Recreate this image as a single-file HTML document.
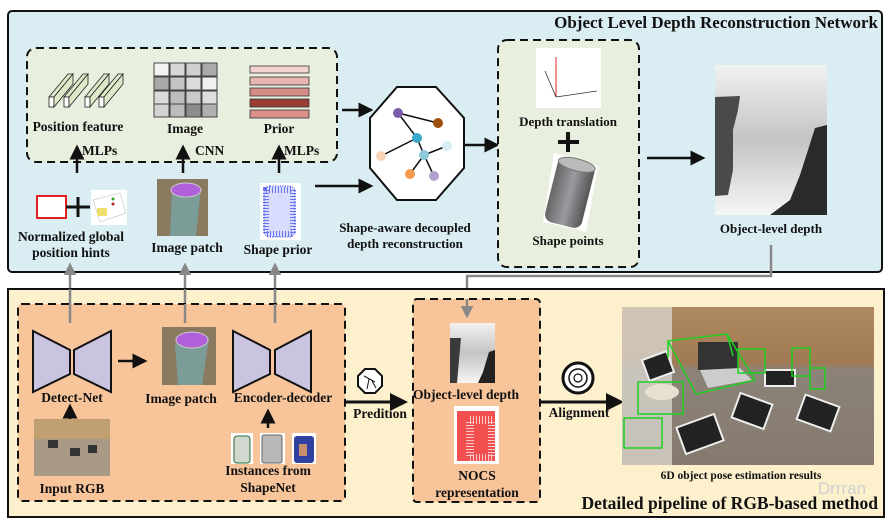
<!DOCTYPE html>
<html><head><meta charset="utf-8"><style>
body{margin:0;background:#fff}
svg text{font-family:"Liberation Serif",serif;font-weight:bold;fill:#111}
</style></head><body>
<svg width="889" height="526" viewBox="0 0 889 526" xmlns="http://www.w3.org/2000/svg">
<defs>
<marker id="ab" markerWidth="6" markerHeight="6" refX="5" refY="3" orient="auto" markerUnits="strokeWidth"><path d="M0,0 L6,3 L0,6 z" fill="#111"/></marker>
<marker id="ag" markerWidth="5" markerHeight="5" refX="4" refY="2.5" orient="auto" markerUnits="strokeWidth"><path d="M0,0 L5,2.5 L0,5 z" fill="#888"/></marker>
<linearGradient id="dep" x1="0" y1="0" x2="0" y2="1"><stop offset="0" stop-color="#f2f2f2"/><stop offset="0.5" stop-color="#c4c4c4"/><stop offset="1" stop-color="#f6f6f6"/></linearGradient>
<linearGradient id="can" x1="0" x2="1"><stop offset="0" stop-color="#666"/><stop offset="0.5" stop-color="#9a9aa0"/><stop offset="1" stop-color="#555"/></linearGradient>
<linearGradient id="room" x1="0" y1="0" x2="0" y2="1"><stop offset="0" stop-color="#b08a60"/><stop offset="0.35" stop-color="#a07a52"/><stop offset="0.4" stop-color="#8c8378"/><stop offset="1" stop-color="#857a6e"/></linearGradient>
</defs>

<rect x="8" y="11" width="874" height="261" rx="4" fill="#daedf3" stroke="#111" stroke-width="2"/>
<text x="878" y="28" font-size="17" text-anchor="end">Object Level Depth Reconstruction Network</text>

<rect x="27" y="48" width="310" height="114" rx="9" fill="#e9efdf" stroke="#111" stroke-width="2" stroke-dasharray="8,5"/>
<g fill="#dfe8c8" stroke="#222" stroke-width="0.8">
<path d="M49,97 L68,74 L73,74 L54,97 z"/><rect x="49" y="97" width="5" height="10" fill="#fff"/><path d="M54,97 L73,74 L73,84 L54,107z"/>
<path d="M64,97 L83,74 L88,74 L69,97 z"/><rect x="64" y="97" width="5" height="10" fill="#fff"/><path d="M69,97 L88,74 L88,84 L69,107z"/>
<path d="M85,97 L104,74 L109,74 L90,97 z"/><rect x="85" y="97" width="5" height="10" fill="#fff"/><path d="M90,97 L109,74 L109,84 L90,107z"/>
<path d="M99,97 L118,74 L123,74 L104,97 z"/><rect x="99" y="97" width="5" height="10" fill="#fff"/><path d="M104,97 L123,74 L123,84 L104,107z"/>
</g>
<text x="78" y="131" font-size="13.5" text-anchor="middle">Position feature</text>
<g stroke="#444" stroke-width="1">
<rect x="154" y="63" width="15" height="13" fill="#f2f2f2"/><rect x="170" y="63" width="15" height="13" fill="#d6d6d6"/><rect x="186" y="63" width="15" height="13" fill="#cfcfcf"/><rect x="202" y="63" width="15" height="13" fill="#aaa"/>
<rect x="154" y="77" width="15" height="13" fill="#a8a8a8"/><rect x="170" y="77" width="15" height="13" fill="#c4c4c4"/><rect x="186" y="77" width="15" height="13" fill="#dcdcdc"/><rect x="202" y="77" width="15" height="13" fill="#f0f0f0"/>
<rect x="154" y="91" width="15" height="13" fill="#dadada"/><rect x="170" y="91" width="15" height="13" fill="#bdbdbd"/><rect x="186" y="91" width="15" height="13" fill="#c9c9c9"/><rect x="202" y="91" width="15" height="13" fill="#dedede"/>
<rect x="154" y="104" width="15" height="13" fill="#d3d3d3"/><rect x="170" y="104" width="15" height="13" fill="#bcbcbc"/><rect x="186" y="104" width="15" height="13" fill="#8c8c8c"/><rect x="202" y="104" width="15" height="13" fill="#b0b0b0"/>
</g>
<text x="185" y="133" font-size="13.5" text-anchor="middle">Image</text>
<g stroke="#333" stroke-width="0.8">
<rect x="250" y="66" width="59" height="7" fill="#f2d3d0"/>
<rect x="250" y="77" width="59" height="8" fill="#e8b5b0"/>
<rect x="250" y="88" width="59" height="8" fill="#d68d86"/>
<rect x="250" y="99" width="59" height="8" fill="#9c3d35"/>
<rect x="250" y="110" width="59" height="8" fill="#d9918a"/>
</g>
<text x="279" y="133" font-size="13.5" text-anchor="middle">Prior</text>
<g stroke="#111" stroke-width="2.5" marker-end="url(#ab)">
<line x1="77" y1="173" x2="77" y2="147"/><line x1="183" y1="173" x2="183" y2="147"/><line x1="279" y1="173" x2="279" y2="147"/>
</g>
<text x="82" y="155" font-size="13.5">MLPs</text>
<text x="195" y="155" font-size="13.5">CNN</text>
<text x="284" y="155" font-size="13.5">MLPs</text>

<rect x="37" y="196" width="29" height="22" fill="#fff" stroke="#e02020" stroke-width="2"/>
<line x1="66" y1="207" x2="90" y2="207" stroke="#111" stroke-width="3"/><line x1="78" y1="197" x2="78" y2="217" stroke="#111" stroke-width="3"/>
<rect x="91" y="190" width="36" height="35" fill="#fff"/>
<path d="M93,200 L120,193 L126,213 L100,222 z" fill="none" stroke="#ccc" stroke-width="0.7"/>
<rect x="97" y="208" width="10" height="8" fill="#f0e070"/><circle cx="113" cy="199" r="1.5" fill="#2a2"/><circle cx="113" cy="204" r="1.5" fill="#a22"/>
<text x="71" y="241" font-size="13.5" text-anchor="middle">Normalized global</text>
<text x="71" y="257" font-size="13.5" text-anchor="middle">position hints</text>

<rect x="157" y="179" width="51" height="57" fill="#8a7a60"/>
<path d="M172,190 L201,188 L196,236 L170,236 z" fill="#7c9c98"/>
<ellipse cx="186" cy="190" rx="15" ry="7" fill="#b060d8" stroke="#ccc"/>
<text x="187" y="252" font-size="13.5" text-anchor="middle">Image patch</text>

<rect x="260" y="183" width="41" height="57" fill="#fff"/>
<rect x="264" y="186" width="31" height="51" rx="6" fill="#d8dcff" stroke="#2030e0" stroke-width="1" stroke-dasharray="1,1.5"/>
<rect x="266" y="190" width="27" height="44" fill="none" stroke="#2030e0" stroke-width="6" stroke-dasharray="1,2" opacity="0.6"/>
<text x="278" y="254" font-size="13.5" text-anchor="middle">Shape prior</text>

<g stroke="#111" stroke-width="2.5" marker-end="url(#ab)">
<line x1="342" y1="110" x2="371" y2="110"/><line x1="315" y1="186" x2="371" y2="186"/><line x1="464" y1="145" x2="497" y2="145"/><line x1="647" y1="158" x2="703" y2="158"/>
</g>
<polygon points="397,87 436,87 464,118 464,168 436,200 397,200 370,168 370,118" fill="#fff" stroke="#111" stroke-width="2"/>
<g stroke="#111" stroke-width="1.5">
<line x1="398" y1="113" x2="438" y2="123"/><line x1="398" y1="113" x2="417" y2="138"/><line x1="417" y1="138" x2="381" y2="156"/><line x1="417" y1="138" x2="424" y2="155"/><line x1="424" y1="155" x2="447" y2="146"/><line x1="424" y1="155" x2="410" y2="174"/><line x1="424" y1="155" x2="434" y2="176"/>
</g>
<circle cx="398" cy="113" r="5" fill="#7a5ca8"/><circle cx="438" cy="123" r="5" fill="#a0500e"/><circle cx="417" cy="138" r="5" fill="#3aa8c8"/><circle cx="447" cy="146" r="5" fill="#d8ecf4"/><circle cx="424" cy="155" r="5" fill="#8ccadc"/><circle cx="381" cy="156" r="5" fill="#f8d4b8"/><circle cx="410" cy="174" r="5" fill="#f49a50"/><circle cx="434" cy="176" r="5" fill="#b4a0cc"/>
<text x="405" y="232" font-size="13" text-anchor="middle">Shape-aware decoupled</text>
<text x="405" y="248" font-size="13" text-anchor="middle">depth reconstruction</text>

<rect x="498" y="40" width="141" height="227" rx="9" fill="#e9efdf" stroke="#111" stroke-width="2" stroke-dasharray="8,5"/>
<rect x="536" y="48" width="65" height="60" fill="#fff"/>
<line x1="556" y1="97" x2="556" y2="57" stroke="#e02020" stroke-width="1"/>
<line x1="556" y1="97" x2="545" y2="71" stroke="#333" stroke-width="0.8"/><line x1="556" y1="97" x2="597" y2="91" stroke="#333" stroke-width="0.8"/>
<text x="568" y="126" font-size="13" text-anchor="middle">Depth translation</text>
<line x1="558" y1="142" x2="579" y2="142" stroke="#111" stroke-width="4"/><line x1="568" y1="132" x2="568" y2="152" stroke="#111" stroke-width="4"/>
<polygon points="554,153 598,166 586,232 543,222" fill="#fff"/>
<g transform="rotate(14 570 192)"><rect x="551" y="160" width="38" height="66" rx="8" fill="url(#can)"/><ellipse cx="570" cy="164" rx="19" ry="6" fill="#bbb" stroke="#777"/></g>
<text x="568" y="245" font-size="13" text-anchor="middle">Shape points</text>

<rect x="715" y="65" width="112" height="150" fill="url(#dep)"/>
<path d="M715,97 L740,96 L738,110 L733,130 L733,170 L728,195 L715,196 z" fill="#4a4a4a"/>
<path d="M827,125 L815,128 L808,150 L800,175 L790,200 L770,215 L827,215 z" fill="#2a2a2a"/>
<text x="771" y="233" font-size="13" text-anchor="middle">Object-level depth</text>

<polyline points="771,245 771,276 467,276 467,314" fill="none" stroke="#888" stroke-width="2.5" marker-end="url(#ag)"/>
<g stroke="#888" stroke-width="2.5" marker-end="url(#ag)">
<line x1="70" y1="322" x2="70" y2="265"/><line x1="185" y1="322" x2="185" y2="265"/><line x1="275" y1="322" x2="275" y2="265"/>
</g>

<rect x="8" y="289" width="876" height="228" fill="#fdf0cd" stroke="#111" stroke-width="2"/>
<g stroke="#888" stroke-width="2.5"><line x1="70" y1="289" x2="70" y2="322"/><line x1="185" y1="289" x2="185" y2="322"/><line x1="275" y1="289" x2="275" y2="322"/></g>
<rect x="18" y="304" width="327" height="197" rx="4" fill="#f8c59b" stroke="#111" stroke-width="2" stroke-dasharray="8,5"/>
<g stroke="#888" stroke-width="2.5"><line x1="70" y1="304" x2="70" y2="323"/><line x1="185" y1="304" x2="185" y2="323"/><line x1="275" y1="304" x2="275" y2="323"/></g>
<polygon points="33,331 70,350 70,374 33,392" fill="#cbc4e0" stroke="#111" stroke-width="2"/>
<polygon points="111,331 74,350 74,374 111,392" fill="#cbc4e0" stroke="#111" stroke-width="2"/>
<text x="72" y="402" font-size="13.5" text-anchor="middle">Detect-Net</text>
<line x1="70" y1="420" x2="70" y2="406" stroke="#111" stroke-width="2.5" marker-end="url(#ab)"/>
<rect x="34" y="419" width="76" height="57" fill="#a89a86"/>
<rect x="34" y="419" width="76" height="20" fill="#c0a070"/>
<rect x="48" y="440" width="10" height="8" fill="#333"/><rect x="70" y="448" width="10" height="8" fill="#333"/><rect x="88" y="445" width="9" height="8" fill="#333"/>
<text x="72" y="493" font-size="13.5" text-anchor="middle">Input RGB</text>
<line x1="118" y1="361" x2="145" y2="361" stroke="#111" stroke-width="2.5" marker-end="url(#ab)"/>
<rect x="162" y="327" width="54" height="58" fill="#8a7a60"/>
<path d="M175,343 L209,338 L202,385 L178,385 z" fill="#7c9c98"/>
<ellipse cx="192" cy="340" rx="16" ry="8" fill="#b060d8" stroke="#ccc"/>
<text x="181" y="403" font-size="13.5" text-anchor="middle">Image patch</text>
<polygon points="233,331 270,350 270,374 233,392" fill="#cbc4e0" stroke="#111" stroke-width="2"/>
<polygon points="311,331 275,350 275,374 311,392" fill="#cbc4e0" stroke="#111" stroke-width="2"/>
<text x="283" y="402" font-size="13.5" text-anchor="middle">Encoder-decoder</text>
<line x1="268" y1="428" x2="268" y2="411" stroke="#111" stroke-width="2.5" marker-end="url(#ab)"/>
<rect x="231" y="433" width="22" height="31" fill="#fff"/><rect x="234" y="436" width="16" height="27" rx="3" fill="#d0d8d0" stroke="#2a6a3a"/>
<rect x="260" y="433" width="25" height="31" fill="#fff"/><rect x="262" y="435" width="20" height="28" rx="2" fill="#b8b8b8" stroke="#666"/>
<rect x="292" y="433" width="24" height="31" fill="#fff"/><rect x="294" y="436" width="20" height="27" rx="3" fill="#3040a0"/><rect x="299" y="444" width="8" height="12" fill="#c89070"/>
<text x="268" y="475" font-size="13.5" text-anchor="middle">Instances from</text>
<text x="268" y="492" font-size="13.5" text-anchor="middle">ShapeNet</text>

<line x1="345" y1="402" x2="405" y2="402" stroke="#111" stroke-width="3" marker-end="url(#ab)"/>
<polygon points="365,369 375,369 382,376 382,386 375,393 365,393 358,386 358,376" fill="#fff" stroke="#111" stroke-width="2"/>
<path d="M364,376 L375,382 M369,379 L367,389 M372,381 L376,388" stroke="#111" stroke-width="1"/>
<text x="380" y="418" font-size="13.5" text-anchor="middle">Predition</text>

<rect x="413" y="299" width="127" height="203" rx="4" fill="#f8c59b" stroke="#111" stroke-width="2" stroke-dasharray="8,5"/>
<line x1="467" y1="299" x2="467" y2="316" stroke="#888" stroke-width="2.5" marker-end="url(#ag)"/>
<rect x="450" y="323" width="45" height="60" fill="url(#dep)"/>
<path d="M450,338 L461,338 L459,360 L457,383 L450,383z" fill="#3a3a3a"/><path d="M495,350 L489,352 L483,372 L478,383 L495,383z" fill="#222"/>
<text x="466" y="399" font-size="13.5" text-anchor="middle">Object-level depth</text>
<rect x="454" y="406" width="45" height="58" fill="#fff"/>
<rect x="457" y="411" width="38" height="50" fill="#f03030" opacity="0.85"/>
<rect x="470" y="420" width="22" height="38" fill="none" stroke="#fff" stroke-width="8" stroke-dasharray="1,2" opacity="0.7"/>
<text x="477" y="480" font-size="13.5" text-anchor="middle">NOCS</text>
<text x="477" y="497" font-size="13.5" text-anchor="middle">representation</text>

<circle cx="578" cy="378" r="15" fill="#fff" stroke="#111" stroke-width="3"/><circle cx="578" cy="378" r="9" fill="none" stroke="#111" stroke-width="1.5"/><circle cx="578" cy="378" r="4" fill="none" stroke="#111" stroke-width="1.2"/>
<line x1="540" y1="402" x2="621" y2="402" stroke="#111" stroke-width="3" marker-end="url(#ab)"/>
<text x="579" y="417" font-size="13.5" text-anchor="middle">Alignment</text>

<rect x="622" y="307" width="252" height="158" fill="url(#room)"/>
<rect x="622" y="307" width="50" height="158" fill="#d8d4cc" opacity="0.8"/>
<g fill="#222" stroke="#eee" stroke-width="2">
<rect x="645" y="355" width="26" height="22" transform="rotate(-20 658 366)"/>
<rect x="680" y="420" width="40" height="28" transform="rotate(-20 700 434)"/>
<rect x="735" y="398" width="34" height="26" transform="rotate(20 752 411)"/>
<rect x="800" y="400" width="36" height="26" transform="rotate(20 818 413)"/>
<rect x="765" y="370" width="30" height="16"/>
</g>
<rect x="698" y="342" width="40" height="28" fill="#333"/>
<path d="M700,370 L740,368 L752,380 L708,388 z" fill="#ccc"/>
<ellipse cx="662" cy="392" rx="17" ry="8" fill="#e8e0d0"/>
<g fill="none" stroke="#20d020" stroke-width="1.5">
<path d="M668,341 L727,334 L755,380 L696,394 z M668,341 L668,358 M727,334 L733,356"/>
<rect x="638" y="382" width="45" height="32"/>
<rect x="624" y="418" width="38" height="30"/>
<rect x="738" y="349" width="27" height="24"/>
<rect x="792" y="348" width="18" height="28"/><rect x="810" y="368" width="15" height="21"/>
</g>
<text x="741" y="479" font-size="11.5" text-anchor="middle">6D object pose estimation results</text>
<text x="842" y="494" font-size="17" text-anchor="middle" style="font-family:'Liberation Sans',sans-serif;font-weight:normal;fill:#d0d0d0">Drrran</text>
<text x="878" y="509" font-size="17.5" text-anchor="end">Detailed pipeline of RGB-based method</text>
</svg>
</body></html>
